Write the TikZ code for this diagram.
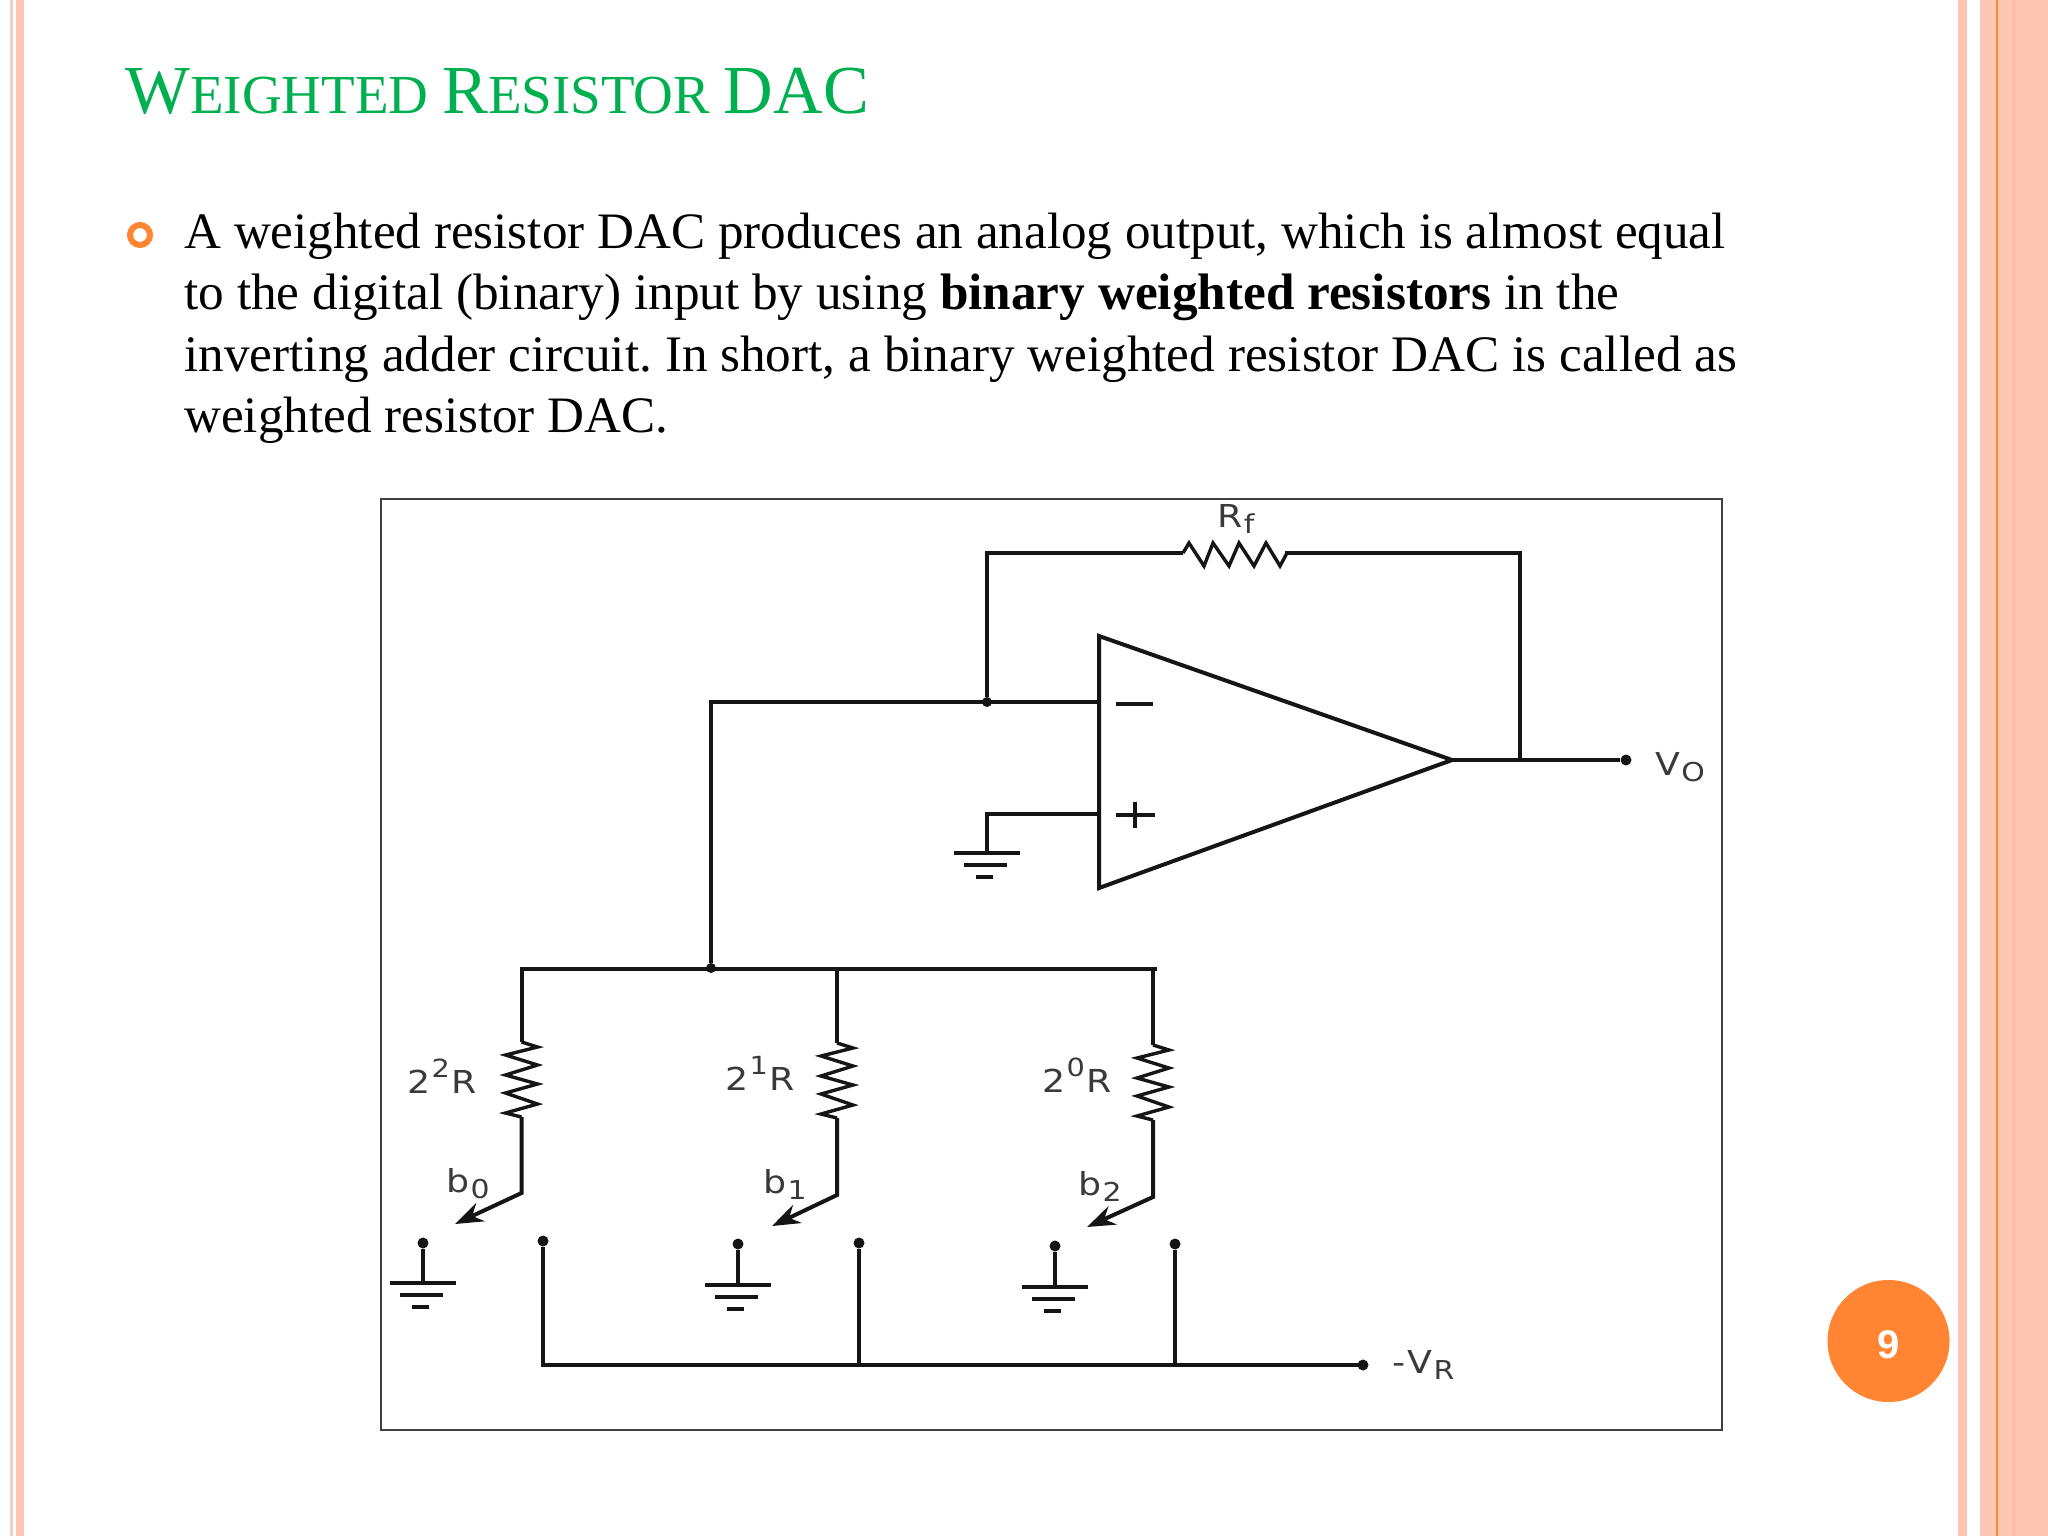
\documentclass[tikz,border=0pt]{standalone}
\usepackage{fontspec}
\setmainfont{Liberation Serif}
\newfontfamily\labfont[FakeStretch=1.15]{DejaVu Sans}
\newfontfamily\numfont{Liberation Sans}
\usetikzlibrary{arrows.meta}
\frenchspacing
\definecolor{stripe}{HTML}{FEC7B4}
\definecolor{stripeb}{HTML}{FBBFAB}
\definecolor{stripec}{HTML}{F6CFC2}
\definecolor{accent}{HTML}{FF8533}
\definecolor{titlegreen}{HTML}{00AF50}
\definecolor{wirecol}{HTML}{151515}
\definecolor{labcol}{HTML}{3A3A3A}
\newcommand{\lab}[3]{#1\kern0.6pt\raisebox{0.5em}{\fontsize{12.5}{14}\selectfont #2}\kern0.6pt#3}
\newcommand{\labsub}[2]{#1\kern0.6pt\raisebox{-3pt}{\fontsize{13}{14}\selectfont #2}}
\tikzset{
  wire/.style={draw=wirecol,line width=2pt},
  thinbar/.style={draw=wirecol,line width=1.6pt},
  terminal/.style={circle,fill=wirecol,inner sep=0pt,minimum size=5.5pt},
  junction/.style={circle,fill=wirecol,inner sep=0pt,minimum size=5pt},
  bodyline/.style={anchor=base west,inner sep=0pt,font=\fontsize{25.55}{28}\selectfont},
  circlabel/.style={anchor=base west,inner sep=0pt,text=labcol,font=\labfont\fontsize{15.8}{18}\selectfont},
  stripebar/.style={fill=stripe,draw=none},
  pics/vres/.style={code={
    \draw[wire,line width=1.7pt,line join=miter]
      (0,0)--(16,5)--(-16,13)--(16,23)--(-16,33)--(16,42)--(-16,51)--(16,62)--(-16,71)--(0,75);
  }},
  pics/gnd/.style={code={
    \draw[thinbar] (-33,0)--(33,0);
    \draw[thinbar] (-23,12)--(20,12);
    \draw[thinbar] (-11,24)--(6,24);
  }}
}
\begin{document}
\begin{tikzpicture}[x=0.5pt,y=-0.5pt]
\useasboundingbox (0,0) rectangle (2048,1536);
\fill[white] (0,0) rectangle (2048,1536);
% page stripes
\fill[stripec] (10,0) rectangle (13,1536);
\fill[stripebar] (16,0) rectangle (24,1536);
\fill[stripebar] (1958,0) rectangle (1967,1536);
\fill[stripebar] (1980,0) rectangle (2048,1536);
\fill[stripeb] (2012,0) rectangle (2016,1536);
\fill[accent] (1996,0) rectangle (1998,1536);
% title
\node[anchor=base west,inner sep=0pt,text=titlegreen] (title) at (125,113)
  {\fontsize{34.35}{36}\selectfont W\fontsize{27.5}{36}\selectfont EIGHTED \fontsize{34.35}{36}\selectfont R\fontsize{27.5}{36}\selectfont ESISTOR \fontsize{34.35}{36}\selectfont DAC};
% bullet
\node[circle,draw=accent,line width=3pt,fill=white,minimum size=10pt,inner sep=0pt] (bullet) at (140,235) {};
% body
\node[bodyline] (l1) at (184,248) {A weighted resistor DAC produces an analog output, which is almost equal};
\node[bodyline] (l2) at (184,309) {\fontsize{25.62}{28}\selectfont to the digital (binary) input by using \textbf{binary weighted resistors} in the};
\node[bodyline] (l3) at (184,371) {\fontsize{25.6}{28}\selectfont inverting adder circuit. In short, a binary weighted resistor DAC is called as};
\node[bodyline] (l4) at (184,432) {weighted resistor DAC.};
% page number
\node[circle,fill=accent,minimum size=61pt,inner sep=0pt,text=white,text height=17pt,text depth=0pt,font=\numfont\bfseries\fontsize{20}{22}\selectfont] (pagenum) at (1888.5,1341) {9};
% frame
\node[draw=black!75,line width=1pt,fill=white,minimum width=670.5pt,minimum height=465.5pt,inner sep=0pt,anchor=north west] (frame) at (380,498) {};
% op amp
\coordinate (oa1) at (1099,636);
\coordinate (oa2) at (1099,888);
\coordinate (oatip) at (1452,760);
\draw[wire,line join=miter] (oa1)--(oatip)--(oa2)--cycle;
\draw[wire,line width=1.7pt] (1116,704)--(1153,704);
\draw[wire,line width=1.7pt] (1116,815)--(1155,815) (1135,802)--(1135,828);
% nodes of the amp
\coordinate (minusin) at (1099,702);
\coordinate (plusin) at (1099,814);
\node[junction] (jm) at (987,702) {};
\node[junction] (jb) at (711,968) {};
\coordinate (jm2) at (711,702);
\node[terminal] (vout) at (1626,760) {};
\coordinate (fbb) at (1520,760);
\coordinate (fbt) at (1520,553);
\coordinate (rfr) at (1287,553);
\coordinate (rfl) at (1183,553);
\coordinate (fbl) at (987,553);
\draw[wire] (oatip)--(vout);
\draw[wire,line cap=rect] (fbb)--(fbt)--(rfr);
\draw[wire,line join=miter] (rfl)--(fbl)--(jm);
\draw[wire,line width=1.7pt,line join=miter] (rfl)--(1189,543)--(1204,566)--(1213,543)--(1229,566)--(1239,543)--(1254,566)--(1266,543)--(1280,566)--(rfr);
\draw[wire,line join=miter] (minusin)--(jm2)--(jb);
% + input ground
\coordinate (pg) at (987,814);
\coordinate (pgb) at (987,853);
\draw[wire,line join=miter] (plusin)--(pg)--(pgb);
\pic at (pgb) {gnd};
% bus
\coordinate (bus1) at (521.5,969);
\coordinate (bus2) at (837,969);
\coordinate (bus3) at (1155,969);
\draw[wire,line cap=rect] (bus1)--(bus3);
% branch 1
\coordinate (r1) at (521.5,1042);
\coordinate (e1) at (521.5,1117);
\coordinate (k1) at (521.5,1193);
\coordinate (t1) at (455,1224);
\draw[wire] (bus1)--(r1);
\pic at (r1) {vres};
\draw[wire,-{Stealth[length=14pt,width=10pt]}] (e1)--(k1)--(t1);
% branch 2
\coordinate (r2) at (837,1043);
\coordinate (e2) at (837,1118);
\coordinate (k2) at (837,1195);
\coordinate (t2) at (772,1226);
\draw[wire] (bus2)--(r2);
\pic at (r2) {vres};
\draw[wire,-{Stealth[length=14pt,width=10pt]}] (e2)--(k2)--(t2);
% branch 3
\coordinate (r3) at (1153,1045);
\coordinate (e3) at (1153,1120);
\coordinate (k3) at (1153,1197);
\coordinate (t3) at (1087,1227);
\draw[wire] (1153,969)--(r3);
\pic at (r3) {vres};
\draw[wire,-{Stealth[length=14pt,width=10pt]}] (e3)--(k3)--(t3);
% ground contacts
\node[terminal] (g1) at (423,1243) {};
\node[terminal] (g2) at (738,1244) {};
\node[terminal] (g3) at (1055,1246) {};
\coordinate (gb1) at (423,1283);
\coordinate (gb2) at (738,1285);
\coordinate (gb3) at (1055,1287);
\draw[wire] (g1)--(gb1) (g2)--(gb2) (g3)--(gb3);
\pic at (gb1) {gnd};
\pic at (gb2) {gnd};
\pic at (gb3) {gnd};
% reference contacts
\node[terminal] (c1) at (543,1241) {};
\node[terminal] (c2) at (859,1243) {};
\node[terminal] (c3) at (1175,1244) {};
\coordinate (b1) at (543,1365);
\coordinate (b2) at (859,1365);
\coordinate (b3) at (1175,1365);
\node[terminal] (vr) at (1363,1365) {};
\draw[wire] (c1)--(b1) (c2)--(b2) (c3)--(b3);
\draw[wire,line cap=rect] (b1)--(vr);
% labels
\node[circlabel] (lrf) at (1217,527) {\labsub{R}{f}};
\node[circlabel] (lvo) at (1655,775) {\labsub{V}{O}};
\node[circlabel] (lvr) at (1392,1373) {-\kern1pt\labsub{V}{R}};
\node[circlabel] (lr1) at (407,1093) {\lab{2}{2}{R}};
\node[circlabel] (lr2) at (725,1090) {\lab{2}{1}{R}};
\node[circlabel] (lr3) at (1042,1092) {\lab{2}{0}{R}};
\node[circlabel] (lb1) at (446,1192) {\labsub{b}{0}};
\node[circlabel] (lb2) at (763,1193) {\labsub{b}{1}};
\node[circlabel] (lb3) at (1078,1195) {\labsub{b}{2}};
\end{tikzpicture}
\end{document}
